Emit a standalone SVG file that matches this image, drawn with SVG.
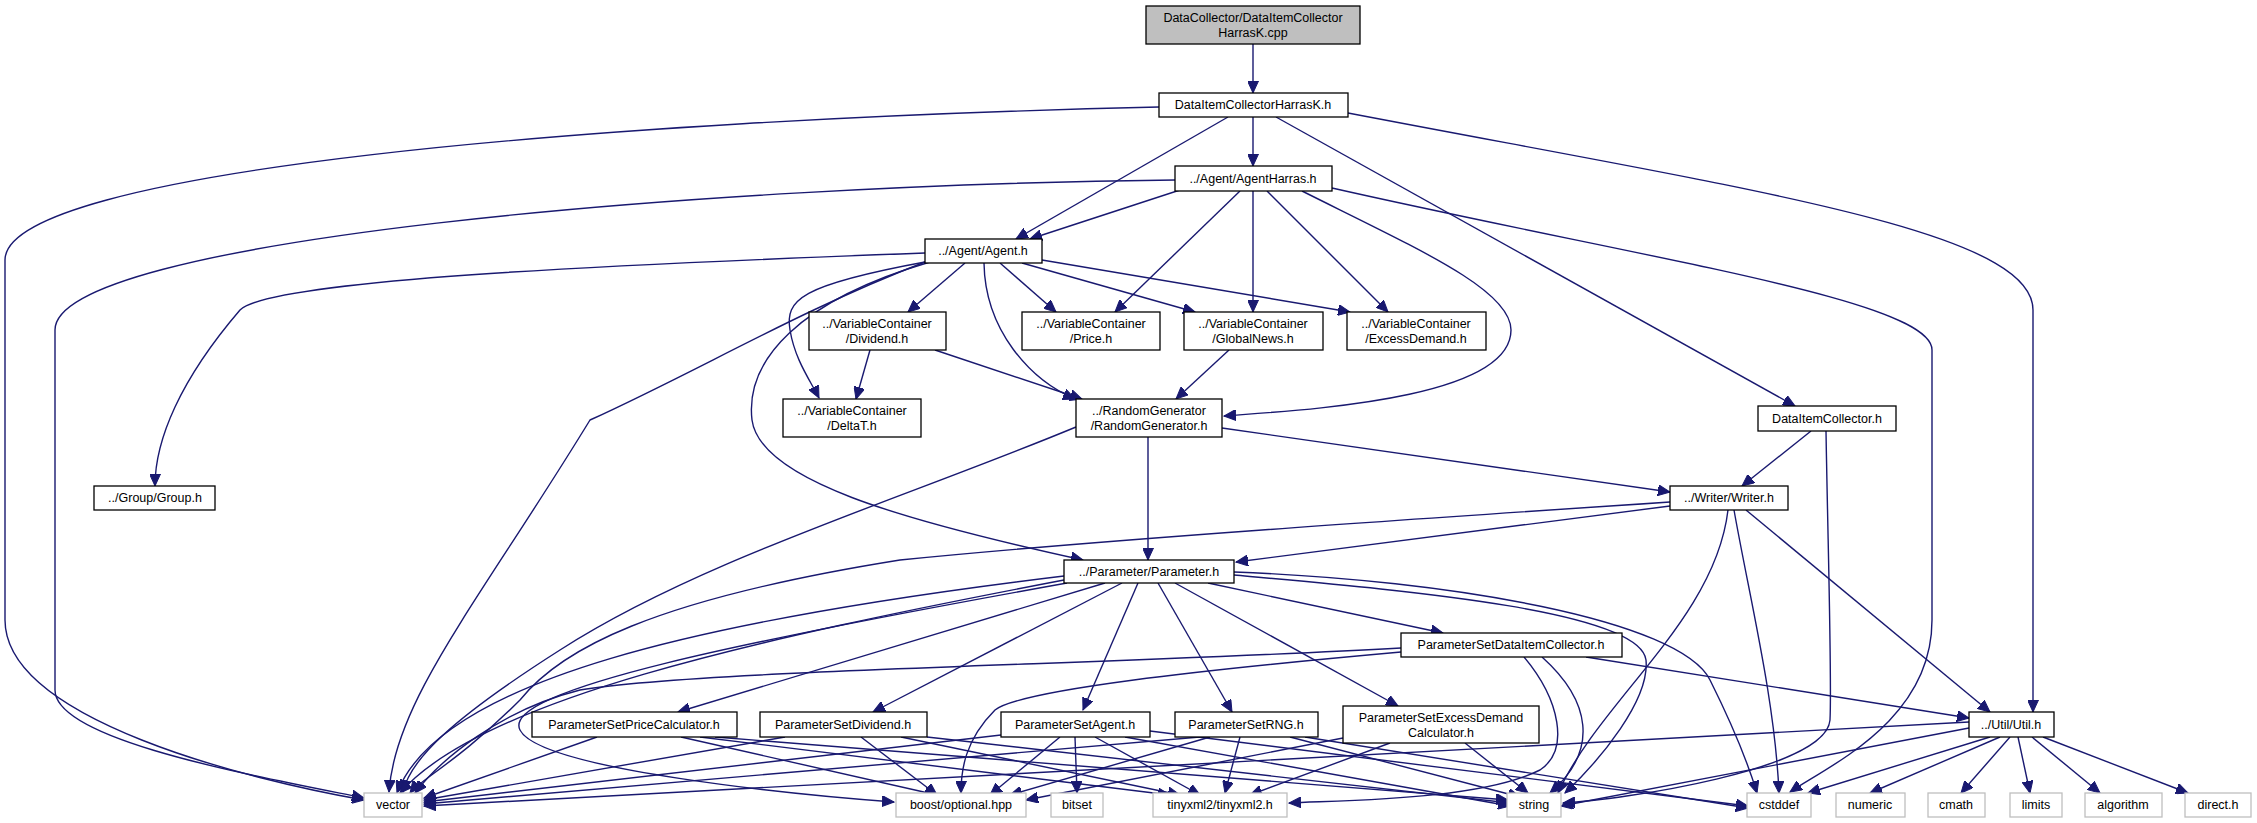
<svg xmlns="http://www.w3.org/2000/svg" width="2257" height="823" viewBox="0 0 2257 823">
<style>
rect{fill:#fff;stroke:#000;stroke-width:1.3}
.r rect{fill:#bfbfbf}
.g rect{stroke:#bfbfbf}
text{font-family:"Liberation Sans",Arial,sans-serif;font-size:12.5px;text-anchor:middle;fill:#000}
#edges path{fill:none;stroke:#191970;stroke-width:1.4;marker-end:url(#a)}
</style>
<defs><marker id="a" markerUnits="userSpaceOnUse" markerWidth="13" markerHeight="11" refX="12" refY="5.5" orient="auto"><path d="M0,0 L12,5.5 L0,11 Z" fill="#191970" stroke="#191970"/></marker></defs>
<rect x="0" y="0" width="2257" height="823" style="fill:#fff;stroke:none"/>
<g id="edges">
<path d="M1253,44 L1253,93"/>
<path d="M1159,107 C600,120 5,170 5,260 L5,620 C5,720 250,780 364,800"/>
<path d="M1228,117 L1016,239"/>
<path d="M1253,117 L1253,166"/>
<path d="M1276,117 L1795,406"/>
<path d="M1348,113 C1750,190 2033,230 2033,310 L2033,712"/>
<path d="M1175,180 C700,185 55,240 55,330 L55,690 C55,740 250,775 364,798"/>
<path d="M1180,190 L1030,239"/>
<path d="M1240,191 L1115,312"/>
<path d="M1253,191 L1253,312"/>
<path d="M1267,191 L1388,312"/>
<path d="M1302,191 C1420,250 1511,290 1511,330 C1511,400 1300,410 1224,416"/>
<path d="M1332,188 C1650,260 1932,300 1932,350 L1932,620 C1932,720 1830,765 1790,792"/>
<path d="M925,253 C600,265 270,280 240,310 C180,380 155,440 155,486"/>
<path d="M925,262 C800,310 700,370 590,420 C480,600 395,700 389,792"/>
<path d="M925,262 C800,285 785,300 790,330 C795,360 810,380 819,398"/>
<path d="M930,262 C800,300 745,360 752,420 C760,480 900,520 1083,560"/>
<path d="M965,263 L908,312"/>
<path d="M984,263 C985,330 1030,380 1075,399"/>
<path d="M1000,263 L1056,312"/>
<path d="M1022,263 L1195,312"/>
<path d="M1042,260 L1350,312"/>
<path d="M870,350 L856,399"/>
<path d="M935,350 L1082,399"/>
<path d="M1229,350 L1176,399"/>
<path d="M1811,431 L1742,486"/>
<path d="M1826,431 C1828,550 1832,680 1830,720 C1826,770 1620,800 1563,803"/>
<path d="M1076,427 C900,500 700,560 560,650 C450,720 410,760 403,792"/>
<path d="M1148,437 L1148,560"/>
<path d="M1222,428 L1670,492"/>
<path d="M1670,502 C1400,520 1100,540 900,560 C650,600 560,650 520,700 C460,760 420,780 410,793"/>
<path d="M1670,506 L1236,562"/>
<path d="M1728,510 C1715,620 1600,700 1558,793"/>
<path d="M1734,510 C1750,600 1775,700 1779,793"/>
<path d="M1746,510 L1990,712"/>
<path d="M1064,576 C700,620 440,680 397,793"/>
<path d="M1064,580 C750,640 480,700 400,793"/>
<path d="M1067,583 C750,640 500,690 520,730 C540,770 800,795 894,802"/>
<path d="M1105,583 L678,712"/>
<path d="M1122,583 L873,712"/>
<path d="M1138,583 L1083,710"/>
<path d="M1158,583 L1232,712"/>
<path d="M1175,583 L1398,706"/>
<path d="M1208,583 L1443,633"/>
<path d="M1234,575 C1400,590 1640,610 1646,660 C1650,700 1600,760 1565,793"/>
<path d="M1234,572 C1450,580 1680,620 1710,680 C1735,730 1750,770 1757,793"/>
<path d="M1401,648 C1100,665 700,670 580,690 C500,710 440,760 415,793"/>
<path d="M1401,652 C1200,670 1020,690 995,710 C965,740 961,770 961,793"/>
<path d="M1524,657 C1560,700 1570,750 1540,770 C1480,800 1350,800 1289,803"/>
<path d="M1542,657 C1590,700 1600,750 1550,793"/>
<path d="M1586,657 L1969,718"/>
<path d="M597,737 L424,798"/>
<path d="M681,737 L937,795"/>
<path d="M700,737 L1170,795"/>
<path d="M715,737 L1508,800"/>
<path d="M785,737 L424,800"/>
<path d="M861,737 L937,795"/>
<path d="M901,737 L1180,795"/>
<path d="M927,737 L1510,803"/>
<path d="M1001,735 L424,802"/>
<path d="M1060,737 L990,795"/>
<path d="M1075,737 L1077,793"/>
<path d="M1095,737 L1200,795"/>
<path d="M1125,737 L1510,806"/>
<path d="M1150,731 L1748,806"/>
<path d="M1200,737 L424,804"/>
<path d="M1210,737 L1010,795"/>
<path d="M1240,737 L1225,793"/>
<path d="M1290,737 L1520,797"/>
<path d="M1305,737 L1748,808"/>
<path d="M1343,738 L1026,800"/>
<path d="M1390,743 L1250,795"/>
<path d="M1465,743 L1528,793"/>
<path d="M1969,722 L424,806"/>
<path d="M1969,728 L1561,806"/>
<path d="M1990,737 L1808,793"/>
<path d="M2000,737 L1870,793"/>
<path d="M2010,737 L1961,793"/>
<path d="M2018,737 L2030,793"/>
<path d="M2032,737 L2100,793"/>
<path d="M2043,737 L2188,793"/>
</g>
<g id="root" class="r"><rect x="1146" y="6" width="214" height="38"/><text x="1253" y="22">DataCollector/DataItemCollector</text><text x="1253" y="37">HarrasK.cpp</text></g>
<g id="n_dich"><rect x="1159" y="93" width="189" height="24"/><text x="1253" y="109">DataItemCollectorHarrasK.h</text></g>
<g id="n_ah"><rect x="1175" y="166" width="157" height="25"/><text x="1253" y="183">../Agent/AgentHarras.h</text></g>
<g id="n_agent"><rect x="925" y="239" width="117" height="24"/><text x="983" y="255">../Agent/Agent.h</text></g>
<g id="n_div"><rect x="809" y="312" width="137" height="38"/><text x="877" y="328">../VariableContainer</text><text x="877" y="343">/Dividend.h</text></g>
<g id="n_price"><rect x="1022" y="312" width="138" height="38"/><text x="1091" y="328">../VariableContainer</text><text x="1091" y="343">/Price.h</text></g>
<g id="n_gn"><rect x="1184" y="312" width="139" height="38"/><text x="1253" y="328">../VariableContainer</text><text x="1253" y="343">/GlobalNews.h</text></g>
<g id="n_ed"><rect x="1347" y="312" width="139" height="38"/><text x="1416" y="328">../VariableContainer</text><text x="1416" y="343">/ExcessDemand.h</text></g>
<g id="n_dt"><rect x="783" y="399" width="138" height="38"/><text x="852" y="415">../VariableContainer</text><text x="852" y="430">/DeltaT.h</text></g>
<g id="n_rg"><rect x="1076" y="399" width="146" height="38"/><text x="1149" y="415">../RandomGenerator</text><text x="1149" y="430">/RandomGenerator.h</text></g>
<g id="n_dc"><rect x="1758" y="406" width="138" height="25"/><text x="1827" y="423">DataItemCollector.h</text></g>
<g id="n_group"><rect x="94" y="486" width="121" height="24"/><text x="155" y="502">../Group/Group.h</text></g>
<g id="n_writer"><rect x="1670" y="486" width="118" height="24"/><text x="1729" y="502">../Writer/Writer.h</text></g>
<g id="n_param"><rect x="1064" y="560" width="170" height="23"/><text x="1149" y="576">../Parameter/Parameter.h</text></g>
<g id="n_psdic"><rect x="1401" y="633" width="221" height="24"/><text x="1511" y="649">ParameterSetDataItemCollector.h</text></g>
<g id="n_pspc"><rect x="532" y="712" width="205" height="25"/><text x="634" y="729">ParameterSetPriceCalculator.h</text></g>
<g id="n_psdiv"><rect x="760" y="712" width="167" height="25"/><text x="843" y="729">ParameterSetDividend.h</text></g>
<g id="n_psag"><rect x="1001" y="712" width="149" height="25"/><text x="1075" y="729">ParameterSetAgent.h</text></g>
<g id="n_psrng"><rect x="1175" y="712" width="143" height="25"/><text x="1246" y="729">ParameterSetRNG.h</text></g>
<g id="n_psed"><rect x="1343" y="706" width="196" height="37"/><text x="1441" y="722">ParameterSetExcessDemand</text><text x="1441" y="737">Calculator.h</text></g>
<g id="n_util"><rect x="1969" y="712" width="85" height="25"/><text x="2011" y="729">../Util/Util.h</text></g>
<g id="n_vector" class="g"><rect x="364" y="793" width="58" height="24"/><text x="393" y="809">vector</text></g>
<g id="n_boost" class="g"><rect x="896" y="793" width="130" height="24"/><text x="961" y="809">boost/optional.hpp</text></g>
<g id="n_bitset" class="g"><rect x="1051" y="793" width="52" height="24"/><text x="1077" y="809">bitset</text></g>
<g id="n_tx" class="g"><rect x="1153" y="793" width="134" height="24"/><text x="1220" y="809">tinyxml2/tinyxml2.h</text></g>
<g id="n_string" class="g"><rect x="1507" y="793" width="54" height="24"/><text x="1534" y="809">string</text></g>
<g id="n_cstddef" class="g"><rect x="1747" y="793" width="64" height="24"/><text x="1779" y="809">cstddef</text></g>
<g id="n_numeric" class="g"><rect x="1836" y="793" width="69" height="24"/><text x="1870" y="809">numeric</text></g>
<g id="n_cmath" class="g"><rect x="1928" y="793" width="57" height="24"/><text x="1956" y="809">cmath</text></g>
<g id="n_limits" class="g"><rect x="2010" y="793" width="52" height="24"/><text x="2036" y="809">limits</text></g>
<g id="n_algo" class="g"><rect x="2085" y="793" width="77" height="24"/><text x="2123" y="809">algorithm</text></g>
<g id="n_direct" class="g"><rect x="2185" y="793" width="66" height="24"/><text x="2218" y="809">direct.h</text></g>
</svg>
